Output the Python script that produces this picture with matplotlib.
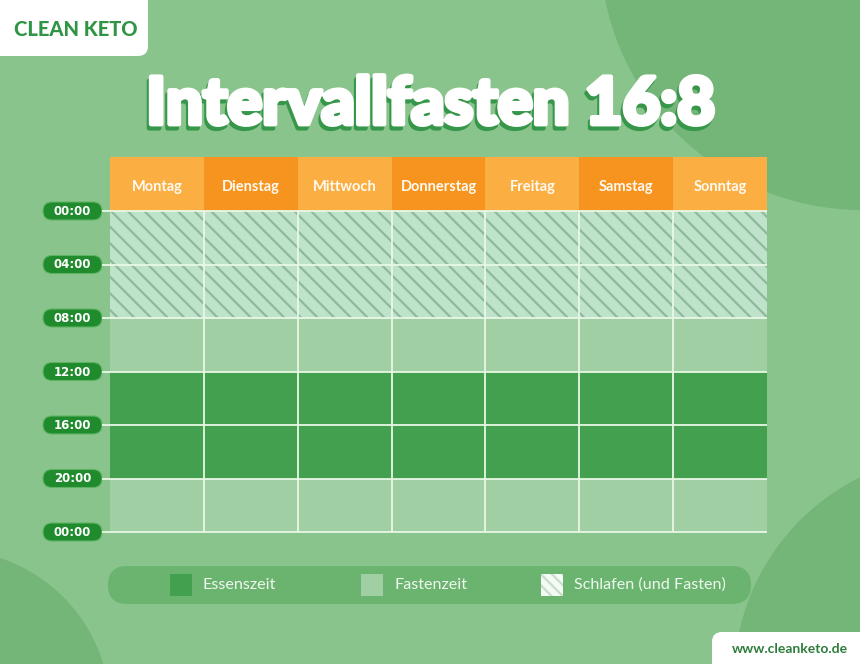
import matplotlib
matplotlib.use("Agg")
import matplotlib.pyplot as plt
import matplotlib.patheffects as pe
from matplotlib.patches import Circle, FancyBboxPatch, Rectangle

# ------------------------------------------------------------------
# Data
# ------------------------------------------------------------------
days = ["Montag", "Dienstag", "Mittwoch", "Donnerstag", "Freitag", "Samstag", "Sonntag"]
hour_ticks = [0, 4, 8, 12, 16, 20, 24]
tick_labels = ["00:00", "04:00", "08:00", "12:00", "16:00", "20:00", "00:00"]

# daily schedule: phase start/end hour and phase type
phase_start = [0, 8, 12, 20]
phase_end = [8, 12, 20, 24]
phase_kind = ["schlafen", "fasten", "essen", "fasten"]

legend_kinds = ["essen", "fasten", "schlafen"]
legend_labels = ["Essenszeit", "Fastenzeit", "Schlafen (und Fasten)"]

title = "Intervallfasten 16:8"
brand = "CLEAN KETO"
website = "www.cleanketo.de"

# ------------------------------------------------------------------
# Styles
# ------------------------------------------------------------------
BG = "#89c48c"
BLOB = "#74b578"
HEAD_LIGHT = "#fbae42"
HEAD_DARK = "#f7941f"
CELL = {"essen": "#43a04f", "fasten": "#9fcfa3", "schlafen": "#bfe3ca"}
HATCH_COL = "#8fb99b"
LINE = "#e9f7e6"
PILL = "#1f8b2d"
FONT = "Lato"

plt.rcParams["hatch.linewidth"] = 1.6

W, H = 860, 664
fig = plt.figure(figsize=(W / 100, H / 100), dpi=100, facecolor=BG)

# background canvas in pixel units (y down)
bg = fig.add_axes([0, 0, 1, 1], zorder=0)
bg.set_xlim(0, W)
bg.set_ylim(H, 0)
bg.axis("off")

# decorative blobs
for (cx, cy, r) in [(862, -52, 262), (-50, 710, 160), (960, 680, 226)]:
    bg.add_patch(Circle((cx, cy), r, color=BLOB, lw=0))

# brand box top-left
bg.add_patch(FancyBboxPatch((-30, -30), 178, 86, boxstyle="round,pad=0,rounding_size=10",
                            fc="white", ec="none"))
bg.text(76, 29, brand, color="#2f9544", fontsize=14.5, fontweight="black", family=FONT,
        ha="center", va="center")

# website box bottom-right
bg.add_patch(FancyBboxPatch((712, 632), 180, 60, boxstyle="round,pad=0,rounding_size=10",
                            fc="white", ec="none"))
bg.text(790, 649, website, color="#2f7d3c", fontsize=10, fontweight="bold", family=FONT,
        ha="center", va="center")

# title with shadow (thickened with strokes)
bg.text(431, 124, title, color="white", fontsize=46.8, fontweight="black", family=FONT,
        ha="center", va="baseline",
        path_effects=[pe.Stroke(offset=(-1.5, -3), linewidth=3.5, foreground="#36974a"),
                      pe.withStroke(linewidth=3.5, foreground="white")])

# ------------------------------------------------------------------
# Schedule grid
# ------------------------------------------------------------------
gx0, gx1, gtop, gy0, gy1 = 110, 767, 157, 211, 532
ax = fig.add_axes([gx0 / W, 1 - gy1 / H, (gx1 - gx0) / W, (gy1 - gtop) / H], zorder=1)
ax.set_xlim(-0.5, len(days) - 0.5)
header_h = (gy0 - gtop) / (gy1 - gy0) * 24
ax.set_ylim(24, -header_h)
ax.axis("off")

x = list(range(len(days)))
for s, e, k in zip(phase_start, phase_end, phase_kind):
    ax.bar(x, [e - s] * len(days), bottom=s, width=1.0, color=CELL[k], lw=0)
    if k == "schlafen":
        ax.bar(x, [e - s] * len(days), bottom=s, width=1.0, fc="none", ec=HATCH_COL,
               lw=0, hatch="\\\\")

# header
head_cols = [HEAD_LIGHT if i % 2 == 0 else HEAD_DARK for i in x]
ax.bar(x, [header_h] * len(days), bottom=-header_h, width=1.0, color=head_cols, lw=0)
for i, d in enumerate(days):
    ax.text(i, -header_h / 2 + 0.2, d, color="#fffaf0", fontsize=10.5, fontweight="bold",
            family=FONT, ha="center", va="center")

# grid lines
col_px = (gx1 - gx0) / len(days)
x_start = -0.5 - (gx0 - 102) / col_px
ax.hlines(hour_ticks, x_start, len(days) - 0.5, colors=LINE, lw=1.3, clip_on=False, zorder=3)
ax.vlines([i + 0.5 for i in x[:-1]], 0, 24, colors=LINE, lw=1.3, zorder=3)

# time pills on the left
inv = bg.transData.inverted()
for h, lab in zip(hour_ticks, tick_labels):
    _, py = inv.transform(ax.transData.transform((0, h)))
    bg.add_patch(FancyBboxPatch((43, py - 9), 59, 18, boxstyle="round,pad=0,rounding_size=9",
                                fc=PILL, ec="#5fb463", lw=0.8))
    bg.text(72.5, py + 0.5, lab, color="white", fontsize=8.5, fontweight="bold",
            family="DejaVu Sans", ha="center", va="center")

# ------------------------------------------------------------------
# Legend
# ------------------------------------------------------------------
bg.add_patch(FancyBboxPatch((108, 566), 643, 38, boxstyle="round,pad=0,rounding_size=19",
                            fc="#6bb46f", ec="none"))
leg_x = [170, 361, 541]
for lx, k, lab in zip(leg_x, legend_kinds, legend_labels):
    if k == "schlafen":
        bg.add_patch(Rectangle((lx, 574), 22, 22, fc="#f4faf4", ec="none"))
        bg.add_patch(Rectangle((lx, 574), 22, 22, fc="none", ec="#c9dccb", lw=0, hatch="\\\\\\"))
    else:
        bg.add_patch(Rectangle((lx, 574), 22, 22, fc=CELL[k], ec="none"))
    bg.text(lx + 33, 585, lab, color="#eef8ee", fontsize=11.6, family=FONT,
            ha="left", va="center")

fig.savefig("out.png", dpi=100, facecolor=BG)
